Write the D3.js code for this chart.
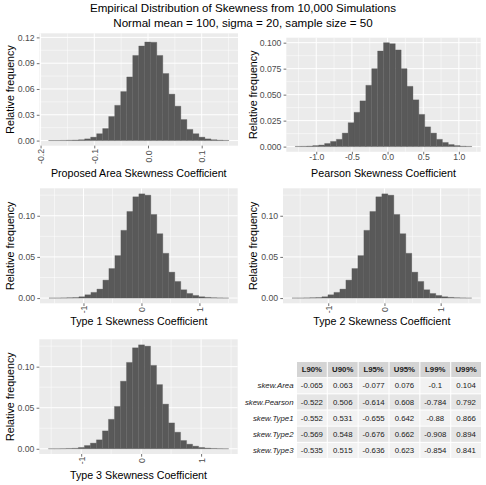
<!DOCTYPE html>
<html>
<head>
<meta charset="utf-8">
<script src="https://cdn.jsdelivr.net/npm/d3@7"></script>
<style>
  body { margin: 0; background: #fff; }
  text { font-family: "Liberation Sans", Arial, Helvetica, sans-serif; }
</style>
</head>
<body>
<svg id="chart"></svg>
<script>
// ---- data ----
const titleLines = ["Empirical Distribution of Skewness from 10,000 Simulations",
                    "Normal mean = 100, sigma = 20, sample size = 50"]

const panelNames = ["Proposed Area Skewness Coefficient", "Pearson Skewness Coefficient",
                    "Type 1 Skewness Coefficient", "Type 2 Skewness Coefficient",
                    "Type 3 Skewness Coefficient"]

// relative frequency of the 30 bins, left to right
const areaFreq = [0.0001, 0.0001, 0.0002, 0.0004, 0.0006, 0.001, 0.002, 0.004, 0.008, 0.014,
                  0.028, 0.041, 0.057, 0.074, 0.099, 0.110, 0.1146, 0.1143, 0.099, 0.078,
                  0.054, 0.040, 0.0245, 0.013, 0.008, 0.004, 0.002, 0.001, 0.0005, 0.0002]
const pearsonFreq = [0.0002, 0.0003, 0.0005, 0.001, 0.0015, 0.003, 0.005, 0.007, 0.013, 0.023,
                     0.033, 0.044, 0.059, 0.075, 0.092, 0.100, 0.099, 0.093, 0.075, 0.058,
                     0.045, 0.031, 0.019, 0.013, 0.007, 0.004, 0.002, 0.001, 0.0004, 0.0002]
// type 1, 2 and 3 are rescalings of each other, so their bins hold the same counts
const typeFreq = [0.0001, 0.0001, 0.0002, 0.0004, 0.0006, 0.0016, 0.004, 0.0069, 0.0109, 0.0218,
                  0.0359, 0.0516, 0.0823, 0.1052, 0.1230, 0.1266, 0.1250, 0.1016, 0.0782, 0.0544,
                  0.0315, 0.0202, 0.0101, 0.0056, 0.0032, 0.0016, 0.0008, 0.0004, 0.0002, 0.0001]

const binStart = [-0.1852, -1.296, -1.595, -1.645, -1.548]
const binWidth = [0.0112, 0.0826, 0.10333, 0.10658, 0.10027]
const yLimit   = [0.1188, 0.0998, 0.127, 0.127, 0.127]

const areaTicksX    = [-0.2, -0.1, 0, 0.1]
const pearsonTicksX = [-1, -0.5, 0, 0.5, 1]
const typeTicksX    = [-1, 0, 1]
const areaTicksY    = [0, 0.03, 0.06, 0.09, 0.12]
const pearsonTicksY = [0, 0.025, 0.05, 0.075, 0.1]
const typeTicksY    = [0, 0.05, 0.1]

const tableCols = ["L90%", "U90%", "L95%", "U95%", "L99%", "U99%"]
const tableRows = ["skew.Area", "skew.Pearson", "skew.Type1", "skew.Type2", "skew.Type3"]
const tableValues = [
  [-0.065, 0.063, -0.077, 0.076, -0.1, 0.104],
  [-0.522, 0.506, -0.614, 0.608, -0.784, 0.792],
  [-0.552, 0.531, -0.655, 0.642, -0.88, 0.866],
  [-0.569, 0.548, -0.676, 0.662, -0.908, 0.894],
  [-0.535, 0.515, -0.636, 0.623, -0.854, 0.841]
]

// ---- page ----
const width = 486, height = 485
const svg = d3.select("#chart").attr("width", width).attr("height", height)

const loc = d3.formatLocale({decimal: ".", thousands: ",", grouping: [3], currency: ["", ""], minus: "-"})

const freqs = [areaFreq, pearsonFreq, typeFreq, typeFreq, typeFreq]
const ticksX = [areaTicksX, pearsonTicksX, typeTicksX, typeTicksX, typeTicksX]
const ticksY = [areaTicksY, pearsonTicksY, typeTicksY, typeTicksY, typeTicksY]
const fmtX = [".1f", ".1f", "d", "d", "d"]
const fmtY = [".2f", ".3f", ".2f", ".2f", ".2f"]

// panel rectangles of the 2 x 3 arrangement
const boxes = [
  {x0: 39.5, x1: 238,   y0: 33.3,  y1: 145.7, rotate: true,  labelY: 156.5, titleY: 173,   yTitleX: 10},
  {x0: 286.3, x1: 480.7, y0: 37.7, y1: 151.8, rotate: false, labelY: 157,   titleY: 173,   yTitleX: 253},
  {x0: 40,   x1: 237.7, y0: 188.3, y1: 303.3, rotate: true,  labelY: 309.5, titleY: 321.7, yTitleX: 10},
  {x0: 283,  x1: 480.7, y0: 188.3, y1: 303.3, rotate: true,  labelY: 309.5, titleY: 321.7, yTitleX: 253},
  {x0: 39.3, x1: 237.7, y0: 339.3, y1: 454,   rotate: true,  labelY: 460.5, titleY: 475.7, yTitleX: 10}
]

svg.selectAll("text.title")
   .data(titleLines)
   .join("text")
   .attr("class", "title")
   .attr("x", 243)
   .attr("y", (d, i) => 11.8 + i * 15.6)
   .attr("text-anchor", "middle")
   .attr("font-size", 11.6)
   .attr("fill", "#000")
   .text(d => d)

function minorOf(ticks) {
  const step = ticks[1] - ticks[0]
  const out = []
  for (let i = -1; i < ticks.length; i++) out.push(ticks[0] + (i + 0.5) * step)
  return out
}

function histogram(i) {
  const b = boxes[i], freq = freqs[i]
  const bins = freq.map((f, k) => ({x0: binStart[i] + k * binWidth[i], x1: binStart[i] + (k + 1) * binWidth[i], f: f}))
  const lo = bins[0].x0, hi = bins[bins.length - 1].x1, pad = (hi - lo) * 0.05

  const x = d3.scaleLinear().domain([lo - pad, hi + pad]).range([b.x0, b.x1])
  const y = d3.scaleLinear().domain([-0.05 * yLimit[i], 1.05 * yLimit[i]]).range([b.y1, b.y0])

  const g = svg.append("g")

  g.append("rect")
   .attr("x", b.x0).attr("y", b.y0)
   .attr("width", b.x1 - b.x0).attr("height", b.y1 - b.y0)
   .attr("fill", "#ebebeb")

  const [dx0, dx1] = x.domain(), [dy0, dy1] = y.domain()
  const minX = minorOf(ticksX[i]).filter(v => v >= dx0 && v <= dx1)
  const minY = minorOf(ticksY[i]).filter(v => v >= dy0 && v <= dy1)

  g.selectAll("line.minx").data(minX).join("line")
   .attr("x1", d => x(d)).attr("x2", d => x(d)).attr("y1", b.y0).attr("y2", b.y1)
   .attr("stroke", "#fff").attr("stroke-width", 0.5)
  g.selectAll("line.miny").data(minY).join("line")
   .attr("y1", d => y(d)).attr("y2", d => y(d)).attr("x1", b.x0).attr("x2", b.x1)
   .attr("stroke", "#fff").attr("stroke-width", 0.5)
  g.selectAll("line.majx").data(ticksX[i]).join("line")
   .attr("x1", d => x(d)).attr("x2", d => x(d)).attr("y1", b.y0).attr("y2", b.y1)
   .attr("stroke", "#fff").attr("stroke-width", 1)
  g.selectAll("line.majy").data(ticksY[i]).join("line")
   .attr("y1", d => y(d)).attr("y2", d => y(d)).attr("x1", b.x0).attr("x2", b.x1)
   .attr("stroke", "#fff").attr("stroke-width", 1)

  // bars; a hairline stroke in the fill colour hides seams and keeps near-empty bins faintly visible
  g.selectAll("path.bar").data(bins).join("path")
   .attr("d", d => `M${x(d.x0)},${y(0)}V${y(d.f)}H${x(d.x1)}V${y(0)}Z`)
   .attr("fill", "#595959")
   .attr("stroke", "#595959")
   .attr("stroke-width", 0.3)

  // y axis
  const ya = g.append("g").attr("transform", `translate(${b.x0},0)`)
              .call(d3.axisLeft(y).tickValues(ticksY[i]).tickFormat(loc.format(fmtY[i])).tickSize(2.7).tickPadding(2.2))
  ya.select(".domain").remove()
  ya.selectAll(".tick line").attr("stroke", "#333").attr("stroke-width", 0.7)
  ya.selectAll(".tick text").attr("fill", "#4d4d4d").attr("font-size", 8.7)
    .attr("font-family", '"Liberation Sans", Arial, sans-serif')

  // x axis
  const xa = g.append("g").attr("transform", `translate(0,${b.y1})`)
              .call(d3.axisBottom(x).tickValues(ticksX[i]).tickFormat(loc.format(fmtX[i])).tickSize(2.7))
  xa.select(".domain").remove()
  xa.selectAll(".tick line").attr("stroke", "#333").attr("stroke-width", 0.7)
  const xt = xa.selectAll(".tick text").attr("fill", "#4d4d4d").attr("font-size", 8.7)
    .attr("font-family", '"Liberation Sans", Arial, sans-serif')
  if (b.rotate) {
    xt.attr("y", null).attr("dy", null)
      .attr("text-anchor", "middle")
      .attr("dominant-baseline", "central")
      .attr("transform", `translate(0.3,${b.labelY - b.y1}) rotate(-90)`)
  } else {
    xt.attr("y", b.labelY - b.y1).attr("dy", "0.35em")
  }

  g.append("text")
   .attr("x", (b.x0 + b.x1) / 2).attr("y", b.titleY)
   .attr("dy", "0.35em")
   .attr("text-anchor", "middle")
   .attr("font-size", 10.7)
   .attr("fill", "#000")
   .text(panelNames[i])

  g.append("text")
   .attr("transform", `translate(${b.yTitleX},${(b.y0 + b.y1) / 2}) rotate(-90)`)
   .attr("dy", "0.35em")
   .attr("text-anchor", "middle")
   .attr("font-size", 10.7)
   .attr("fill", "#000")
   .text("Relative frequency")
}

d3.range(panelNames.length).forEach(histogram)

// ---- quantile table ----
const tx = d3.scaleBand().domain(tableCols).range([297, 481]).paddingInner(0.035)
const ty = d3.scaleBand().domain(["head"].concat(tableRows)).range([362, 458]).paddingInner(0.065)
const tab = svg.append("g")

tab.selectAll("rect.head").data(tableCols).join("rect")
   .attr("x", d => tx(d)).attr("y", ty("head"))
   .attr("width", tx.bandwidth()).attr("height", ty.bandwidth())
   .attr("fill", "#d4d4d4")
tab.selectAll("text.head").data(tableCols).join("text")
   .attr("x", d => tx(d) + tx.bandwidth() / 2).attr("y", ty("head") + ty.bandwidth() / 2)
   .attr("dy", "0.35em").attr("text-anchor", "middle")
   .attr("font-size", 7.8).attr("font-weight", "bold").attr("fill", "#1a1a1a")
   .text(d => d)

tableRows.forEach((r, ri) => {
  const row = tab.append("g")
  row.append("text")
     .attr("x", 293.5).attr("y", ty(r) + ty.bandwidth() / 2)
     .attr("dy", "0.35em").attr("text-anchor", "end")
     .attr("font-size", 7.8).attr("font-style", "italic").attr("fill", "#1a1a1a")
     .text(r)
  row.selectAll("rect").data(tableValues[ri]).join("rect")
     .attr("x", (d, ci) => tx(tableCols[ci])).attr("y", ty(r))
     .attr("width", tx.bandwidth()).attr("height", ty.bandwidth())
     .attr("fill", ri % 2 === 0 ? "#f2f2f2" : "#e5e5e5")
  row.selectAll("text.val").data(tableValues[ri]).join("text")
     .attr("class", "val")
     .attr("x", (d, ci) => tx(tableCols[ci]) + tx.bandwidth() / 2).attr("y", ty(r) + ty.bandwidth() / 2)
     .attr("dy", "0.35em").attr("text-anchor", "middle")
     .attr("font-size", 7.8).attr("fill", "#1a1a1a")
     .text(d => String(d))
})
</script>
</body>
</html>
